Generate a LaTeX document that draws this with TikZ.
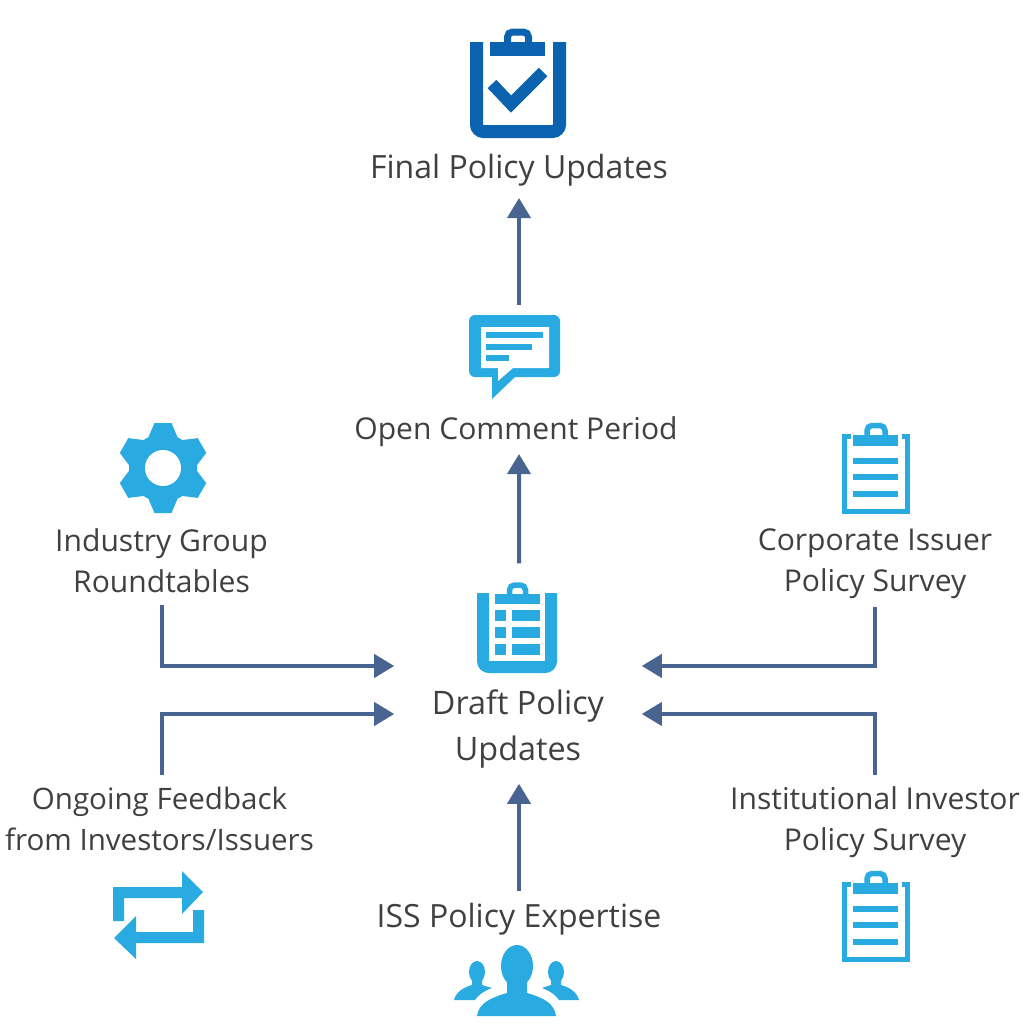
\documentclass[tikz,border=0pt]{standalone}
\usepackage{fontspec}
\setmainfont{Open Sans}
\usetikzlibrary{arrows.meta}
\definecolor{iconblue}{HTML}{29ABE2}
\definecolor{darkblue}{HTML}{0B62AE}
\definecolor{flowblue}{HTML}{4A6491}
\definecolor{labelgrey}{HTML}{404040}
\tikzset{
  caption/.style={inner sep=0pt, outer ysep=.12cm, align=center, text=labelgrey, font=\fontsize{8.55}{11.6}\selectfont},
  bigcaption/.style={caption, font=\fontsize{9.1}{11.6}\selectfont},
  iconbox/.style={inner sep=0pt, minimum width=.9cm, minimum height=.9cm},
  flow/.style={draw=flowblue, line width=.04cm, -{Triangle[length=.2cm,width=.23cm]}},
  clipsheet/.pic={
    \draw[iconblue, line width=.05cm] (-25,-37) -- (-31.5,-37) -- (-31.5,38.5) -- (31.5,38.5) -- (31.5,-37) -- (26,-37);
    \fill[iconblue] (-23,-38) rectangle (22,-27);
    \draw[iconblue, line width=.055cm, rounded corners=.05cm] (-9,-38) -- (-9,-47.5) -- (9,-47.5) -- (9,-38);
    \foreach \rowy in {-15,1,18}
      \fill[iconblue] (-23,\rowy) rectangle (22,\rowy+5.5);
  }
}
\begin{document}
\begin{tikzpicture}[x=.01cm, y=-.01cm]
\useasboundingbox (0,0) rectangle (1030,1030);

\node[bigcaption] (final) at (519,170) {Final Policy Updates};
\node[caption, outer ysep=.07cm] (comment) at (516,432) {Open Comment Period};
\node[caption] (roundtables) at (161.5,561) {Industry Group\\Roundtables};
\node[caption, outer ysep=.08cm] (corporate) at (875,564) {Corporate Issuer\\Policy Survey};
\node[caption, font=\fontsize{9.2}{12.8}\selectfont, minimum width=2.46cm, outer ysep=.16cm] (draft) at (518,729) {Draft Policy\\Updates};
\node[caption, font=\fontsize{8.4}{11.6}\selectfont] (ongoing) at (159.5,819) {Ongoing Feedback\\from Investors/Issuers};
\node[caption] (institutional) at (875,822) {Institutional Investor\\Policy Survey};
\node[bigcaption] (expertise) at (519,919) {ISS Policy Expertise};
\node[iconbox, outer ysep=.1cm] (commenticon) at (519,360) {};
\node[iconbox, outer ysep=.19cm] (drafticon) at (519,627.5) {};

\draw[flow] (commenticon.north) -- (final.south);
\draw[flow] (drafticon.north) -- ([xshift=.03cm]comment.south);
\draw[flow] (expertise.north) -- ([xshift=.01cm]draft.south);
\draw[flow] (roundtables.south) |- ([yshift=.63cm]draft.west);
\draw[flow] ([xshift=.02cm]ongoing.north) |- ([yshift=.15cm]draft.west);
\draw[flow] (corporate.south) |- ([yshift=.63cm]draft.east);
\draw[flow] (institutional.north) |- ([yshift=.15cm]draft.east);

\draw[darkblue, line width=.13cm, rounded corners=.07cm] (476.5,42) -- (476.5,131.5) -- (559.5,131.5) -- (559.5,42);
\fill[darkblue] (490,42) rectangle (545,56);
\draw[darkblue, line width=.07cm, rounded corners=.05cm] (507.5,42) -- (507.5,32) -- (528.5,32) -- (528.5,42);
\draw[darkblue, line width=.12cm] (492,84) -- (511,104) -- (543,72);

\fill[iconblue, rounded corners=.06cm] (469,315) rectangle (560,377);
\fill[iconblue] (492,370) -- (492,399) -- (515,377) -- (515,370) -- cycle;
\fill[white] (481,327) -- (549,327) -- (549,368) -- (513,368) -- (498,381) -- (498,368) -- (481,368) -- cycle;
\fill[iconblue] (486,332) rectangle (543,338);
\fill[iconblue] (486,344) rectangle (532,350);
\fill[iconblue] (486,355) rectangle (509,361);

\fill[iconblue] (163,468) circle (34);
\foreach \toothangle in {30,90,150,210,270,330}
  \fill[iconblue, shift={(163,468)}, rotate=\toothangle] (25,-17) -- (45,-8.5) -- (45,8.5) -- (25,17) -- cycle;
\fill[white] (163,468) circle (18);

\pic at (876,473) {clipsheet};
\pic at (876,921) {clipsheet};

\draw[iconblue, line width=.12cm, rounded corners=.06cm] (483,593) -- (483,667) -- (551,667) -- (551,593);
\fill[iconblue] (495,594) rectangle (540,604);
\draw[iconblue, line width=.055cm, rounded corners=.05cm] (509.5,594) -- (509.5,585) -- (525.5,585) -- (525.5,594);
\foreach \rowy in {610,627,644} {
  \fill[iconblue] (495,\rowy) rectangle (506,\rowy+11);
  \fill[iconblue] (512,\rowy) rectangle (540,\rowy+11);
}

\fill[iconblue] (113,921) -- (113,887) -- (182,887) -- (182,871) -- (203,892) -- (182,914) -- (182,898) -- (124,898) -- (124,921) -- cycle;
\fill[iconblue] (204,910) -- (204,943) -- (136,943) -- (136,959) -- (114,938) -- (136,916) -- (136,932) -- (193,932) -- (193,910) -- cycle;

\fill[iconblue] (517,966) ellipse (16 and 21);
\fill[iconblue] (477,1016) .. controls (479,1003) and (490,998) .. (507,993) -- (507,980) -- (527,980) -- (527,993) .. controls (544,998) and (554,1003) .. (556,1016) -- cycle;
\fill[iconblue] (477,972) ellipse (8 and 11);
\fill[iconblue] (454,1000) .. controls (456,992) and (464,987) .. (472,985) -- (472,978) -- (482,978) -- (482,985) -- (492,988) .. controls (484,991) and (478,995) .. (475,1000) -- cycle;
\fill[iconblue] (556,972) ellipse (8 and 11);
\fill[iconblue] (579,1000) .. controls (577,992) and (569,987) .. (561,985) -- (561,978) -- (551,978) -- (551,985) -- (542,988) .. controls (550,991) and (556,995) .. (559,1000) -- cycle;
\end{tikzpicture}
\end{document}
